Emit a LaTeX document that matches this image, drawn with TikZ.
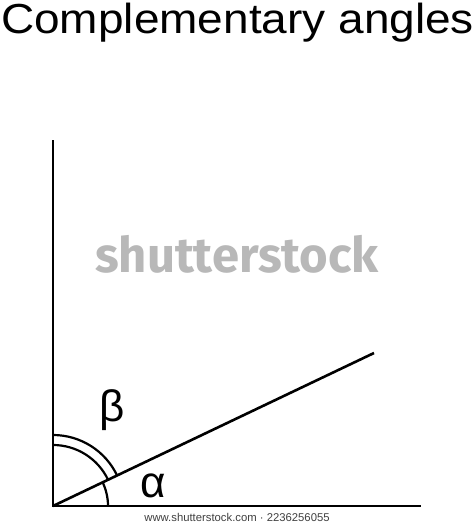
\documentclass[tikz,border=0pt]{standalone}
\usepackage{fontspec}
\setmainfont{Liberation Sans}
\newfontfamily\wmfont{Fira Sans}
\usetikzlibrary{calc}
\begin{document}
\begin{tikzpicture}[x=1pt,y=-1pt,
  ray/.style={line width=2.6pt},
  arcline/.style={line width=2.2pt},
  greek/.style={font=\fontsize{44}{44}\selectfont},
  wm/.style={text=black!28, font=\wmfont\bfseries\fontsize{49}{49}\selectfont},
  foot/.style={text=black!75, font=\fontsize{11.3}{11.3}\selectfont}]
\useasboundingbox[fill=white] (0,0) rectangle (474,525);
\node[anchor=base west, inner sep=0pt, xscale=1.095, font=\fontsize{42}{42}\selectfont] (title) at (1,33) {Complementary angles};
\node[wm, inner sep=0pt] (wmark) at (237,254) {shutterstock};
\coordinate (O) at (53,506);
\coordinate (V) at (53,140);
\coordinate (H) at (421,506);
\coordinate (S) at (374,353);
\draw[ray] (V) -- (O) -- (H);
\draw[ray] (O) -- (S);
\draw[arcline] ($(O)+(55,0)$) arc[start angle=0, end angle=-25.5, radius=55];
\draw[arcline] ($(O)+(0,-61)$) arc[start angle=-90, end angle=-25.5, radius=61];
\draw[arcline] ($(O)+(0,-71)$) arc[start angle=-90, end angle=-25.5, radius=71];
\node[greek, anchor=base] (beta) at (112,421) {β};
\node[greek, anchor=base] (alpha) at (153,497) {α};
\node[foot, anchor=base] (footer) at (237,521) {www.shutterstock.com · 2236256055};
\end{tikzpicture}
\end{document}
